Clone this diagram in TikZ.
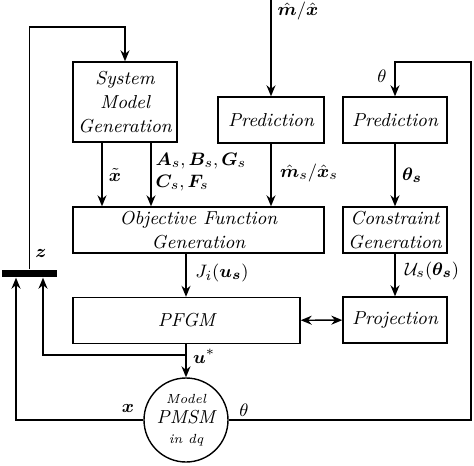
\documentclass[tikz,border=0pt]{standalone}
\usepackage{amsmath}
\usepackage{bm}
\usetikzlibrary{arrows.meta}

\begin{document}
\begin{tikzpicture}[x=0.5pt, y=-0.5pt, line width=0.7pt, >={Stealth[length=5.5pt, width=4.5pt]},
  block/.style={draw, minimum width=52pt, minimum height=23pt, inner sep=1pt, align=center, font=\fontsize{9.4}{12}\selectfont\itshape},
  lbl/.style={inner sep=0pt, font=\fontsize{9.4}{11}\selectfont}]
\useasboundingbox (0,0) rectangle (474,465);

\node[block, minimum height=40pt] (sysmod) at (125, 102) {System\\Model\\Generation};
\node[block, minimum width=53pt] (predm) at (271, 120) {Prediction};
\node[block] (predt) at (395, 120) {Prediction};
\node[block, minimum width=125.5pt] (objfun) at (198.5, 230) {Objective Function\\Generation};
\node[block] (constr) at (395, 230) {Constraint\\Generation};
\node[block, minimum width=113.5pt] (pfgm) at (186.5, 320.5) {PFGM};
\node[block] (proj) at (395, 320) {Projection};
\node[circle, draw, minimum size=42pt, inner sep=0pt, align=center, font=\fontsize{6.6}{10}\selectfont\itshape] (pmsm) at (186, 420) {Model\\{\fontsize{9.4}{10}\selectfont PMSM}\\in dq};
\node[fill=black, minimum width=27.5pt, minimum height=3.5pt, inner sep=0pt] (bar) at (29.5, 273.5) {};

\coordinate (ztop) at (29.5, 27);
\coordinate (min) at (271, 0);
\coordinate (rtop) at (471, 62);
\coordinate (ubr) at (186, 355);

%\draw[gray] (0,0) rectangle (474,465);
\draw[->] (bar.north) -- (ztop) -| (sysmod.north);
\draw[->] ([xshift=-11.5pt]sysmod.south) -- ([xshift=-11.5pt]sysmod.south |- objfun.north);
\draw[->] ([xshift=13pt]sysmod.south) -- ([xshift=13pt]sysmod.south |- objfun.north);
\draw[->] (min) -- (predm.north);
\draw[->] (predm.south) -- (predm.south |- objfun.north);
\draw[->] (pmsm.east) -| (rtop) -| (predt.north);
\draw[->] (predt) -- (constr);
\draw[->] (constr) -- (proj);
\draw[->] (objfun.south -| pmsm) -- (pfgm.north -| pmsm);
\draw[<->] (pfgm) -- (proj);
\draw[->] (pfgm.south -| pmsm) -- (pmsm.north);
\draw[->] (ubr) -| ([xshift=6.75pt]bar.south);
\draw[->] (pmsm.west) -| ([xshift=-6.75pt]bar.south);

\node[lbl] (xtl) at (115, 175) {$\tilde{\bm{x}}$};
\node[lbl, align=left, anchor=west] (abl) at (155, 172) {$\bm{A}_s,\bm{B}_s,\bm{G}_s$\\$\bm{C}_s,\bm{F}_s$};
\node[lbl] (ml) at (298, 11) {$\hat{\bm{m}}/\hat{\bm{x}}$};
\node[lbl] (msl) at (309, 173) {$\hat{\bm{m}}_s/\hat{\bm{x}}_s$};
\node[lbl] (tl) at (382, 76) {$\theta$};
\node[lbl] (tsl) at (412, 175) {$\bm{\theta_s}$};
\node[lbl] (jl) at (222, 273) {$J_i(\bm{u_s})$};
\node[lbl] (ul) at (432, 271) {$\mathcal{U}_s(\bm{\theta_s})$};
\node[lbl] (zl) at (41, 253) {$\bm{z}$};
\node[lbl] (usl) at (204, 356) {$\bm{u}^{*}$};
\node[lbl] (xl) at (128, 408) {$\bm{x}$};
\node[lbl] (tbl) at (244, 410) {$\theta$};

\end{tikzpicture}
\end{document}
